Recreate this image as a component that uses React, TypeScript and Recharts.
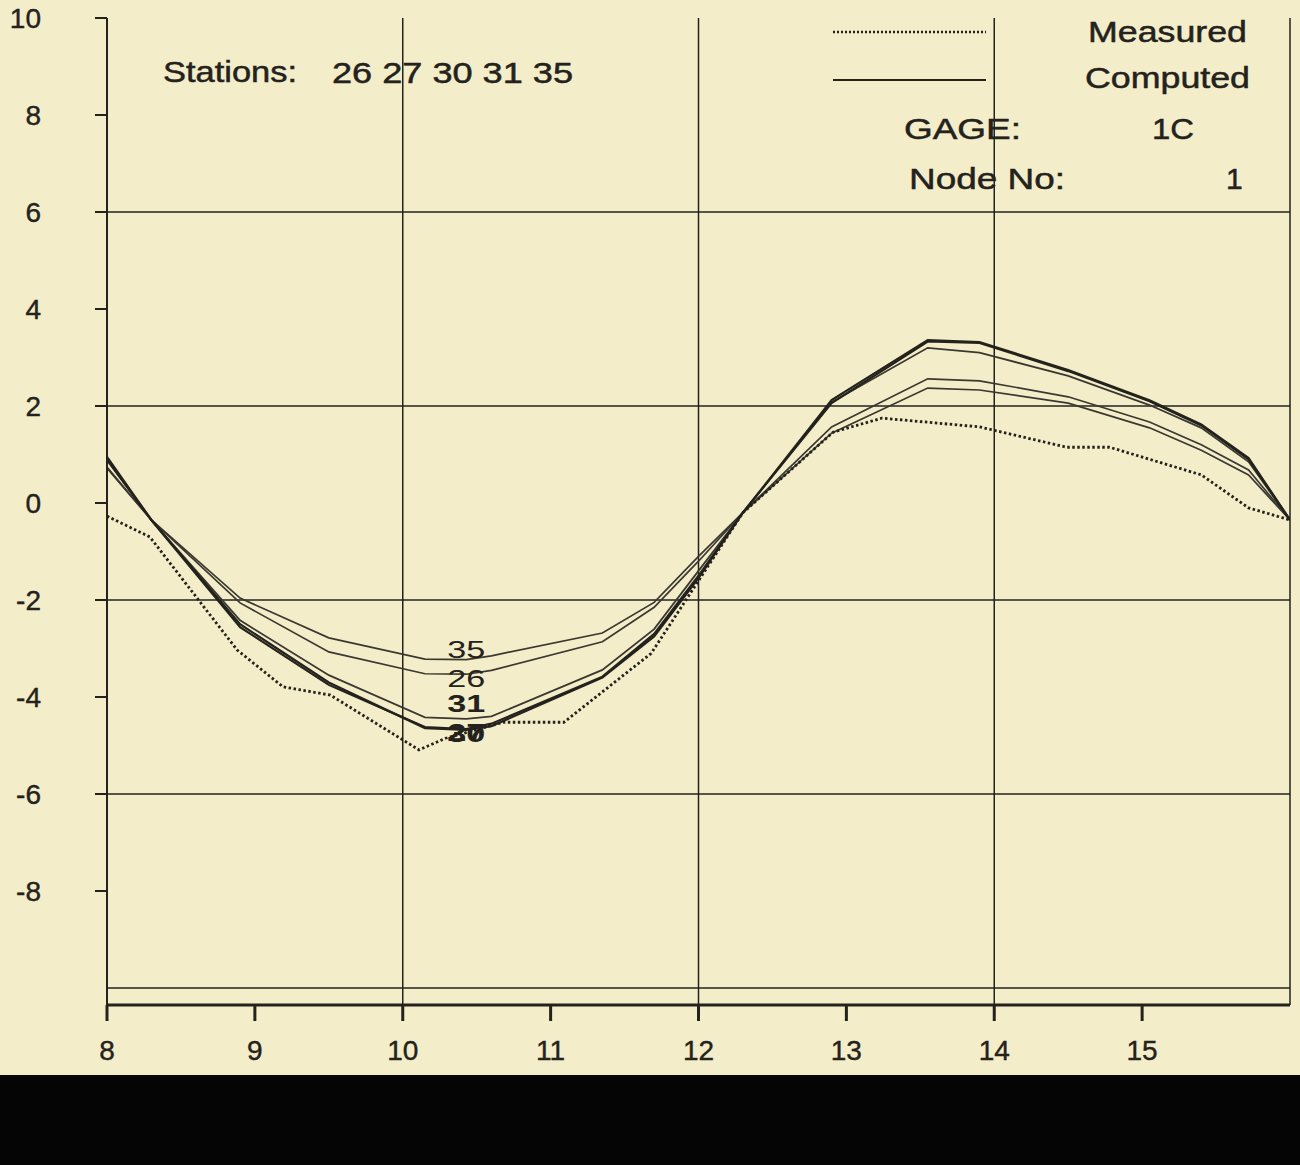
import React from "react";
import {
  LineChart,
  Line,
  XAxis,
  YAxis,
  ReferenceLine,
} from "recharts";

// hours (x) for the computed series
const CALC_T = [
  8.0, 8.3, 8.9, 9.5, 10.15, 10.43, 10.6, 11.35, 11.7, 12.0, 12.3, 12.9, 13.55,
  13.9, 14.5, 15.05, 15.4, 15.72, 16.0,
];

// computed water levels per station
const ST27 = [
  0.95, -0.35, -2.56, -3.75, -4.62, -4.66, -4.55, -3.58, -2.7, -1.5, -0.2, 2.12,
  3.36, 3.32, 2.74, 2.12, 1.62, 0.93, -0.35,
];
const ST30 = [
  0.9, -0.35, -2.5, -3.7, -4.64, -4.68, -4.6, -3.6, -2.75, -1.55, -0.2, 2.06,
  3.33, 3.3, 2.72, 2.1, 1.6, 0.9, -0.35,
];
const ST31 = [
  0.88, -0.35, -2.42, -3.55, -4.42, -4.45, -4.4, -3.44, -2.6, -1.4, -0.2, 2.08,
  3.2, 3.1, 2.62, 2.02, 1.55, 0.85, -0.35,
];
const ST26 = [
  0.74, -0.35, -2.06, -3.07, -3.52, -3.53, -3.45, -2.86, -2.15, -1.2, -0.2,
  1.57, 2.56, 2.52, 2.19, 1.67, 1.2, 0.68, -0.35,
];
const ST35 = [
  0.72, -0.35, -1.96, -2.78, -3.22, -3.23, -3.15, -2.68, -2.05, -1.1, -0.2,
  1.44, 2.37, 2.33, 2.06, 1.55, 1.09, 0.58, -0.35,
];

// measured gage record
const MEAS_T = [
  8.0, 8.29, 8.88, 9.19, 9.51, 10.11, 10.29, 10.68, 11.09, 11.68, 12.3, 12.91,
  13.24, 13.9, 14.49, 14.78, 15.4, 15.72, 16.0,
];
const MEAS = [
  -0.27, -0.7, -3.03, -3.79, -3.96, -5.09, -4.85, -4.52, -4.52, -3.1, -0.2,
  1.46, 1.75, 1.57, 1.15, 1.15, 0.58, -0.1, -0.35,
];

const X_TICKS = [8, 9, 10, 11, 12, 13, 14, 15];
const Y_TICKS = [-8, -6, -4, -2, 0, 2, 4, 6, 8, 10];
const H_GRID = [6, 2, -2, -6, -10];
const V_GRID = [10, 12, 14, 16];

const LABEL_T = 10.43;

const INK = "#23221c";
const SOFT = "#3a3830";
const PAPER = "#f4edc9";
const FONT = "'Liberation Sans', Arial, Helvetica, sans-serif";

const toPoints = (ts: number[], vs: number[]) =>
  ts.map((t, i) => ({ t, v: vs[i] }));

// dy shifts the station tag off its line a little, as in the plot
const STATIONS = [
  { name: "35", values: ST35, width: 1.7, color: SOFT, dy: -2, bold: false },
  { name: "26", values: ST26, width: 1.7, color: SOFT, dy: 13, bold: false },
  { name: "31", values: ST31, width: 1.8, color: SOFT, dy: -7, bold: true },
  { name: "30", values: ST30, width: 2.2, color: INK, dy: 12, bold: true },
  { name: "27", values: ST27, width: 2.2, color: INK, dy: 12, bold: true },
];

const stationLabel =
  (name: string, dy: number, bold: boolean) => (props: any) => {
    const { x, y, index } = props;
    if (CALC_T[index] !== LABEL_T) return null;
    return (
      <text
        x={x - 19}
        y={y}
        dy={dy}
        fontSize={23}
        fontWeight={bold ? 700 : 400}
        fontFamily={FONT}
        fill={INK}
        textLength={38}
        lengthAdjust='spacingAndGlyphs'
      >
        {name}
      </text>
    );
  };

const YTick = (props: any) => {
  const { x, y, payload } = props;
  return (
    <text
      x={x}
      y={y}
      dy={10}
      textAnchor='end'
      fontSize={28}
      fontFamily={FONT}
      fill={INK}
      stroke={INK}
      strokeWidth={0.4}
    >
      {payload.value}
    </text>
  );
};

const XTick = (props: any) => {
  const { x, y, payload } = props;
  return (
    <text
      x={x}
      y={y}
      dy={21}
      textAnchor='middle'
      fontSize={28}
      fontFamily={FONT}
      fill={INK}
      stroke={INK}
      strokeWidth={0.4}
    >
      {payload.value}
    </text>
  );
};

export default function App() {
  const measured = toPoints(MEAS_T, MEAS);

  return (
    <div
      style={{
        position: "absolute",
        left: 0,
        top: 0,
        width: 1300,
        height: 1165,
        background: PAPER,
        fontFamily: FONT,
        overflow: "hidden",
      }}
    >
      <LineChart
        width={1300}
        height={1165}
        margin={{ top: 18, right: 10, left: 0, bottom: 0 }}
      >
        <XAxis
          type='number'
          dataKey='t'
          domain={[8, 16]}
          ticks={X_TICKS}
          height={160}
          tickSize={16}
          tickMargin={18}
          stroke={INK}
          strokeWidth={3}
          tick={<XTick />}
          allowDataOverflow
        />
        <YAxis
          type='number'
          domain={[-10.35, 10]}
          ticks={Y_TICKS}
          width={107}
          tickSize={12}
          tickMargin={54}
          stroke={INK}
          strokeWidth={2}
          tick={<YTick />}
          allowDataOverflow
        />
        {H_GRID.map((y) => (
          <ReferenceLine key={`h${y}`} y={y} stroke={INK} strokeWidth={1.5} />
        ))}
        {V_GRID.map((x) => (
          <ReferenceLine key={`v${x}`} x={x} stroke={INK} strokeWidth={1.5} />
        ))}
        {STATIONS.map((s) => (
          <Line
            key={s.name}
            data={toPoints(CALC_T, s.values)}
            dataKey='v'
            type='linear'
            stroke={s.color}
            strokeWidth={s.width}
            dot={false}
            label={stationLabel(s.name, s.dy, s.bold)}
            isAnimationActive={false}
          />
        ))}
        <Line
          data={measured}
          dataKey='v'
          type='linear'
          stroke={INK}
          strokeWidth={2.8}
          strokeDasharray='2.5 2.5'
          dot={false}
          isAnimationActive={false}
        />
      </LineChart>

      <svg
        width={1300}
        height={1165}
        style={{ position: "absolute", left: 0, top: 0, pointerEvents: "none" }}
      >
        <g
          fontFamily={FONT}
          fontSize={30}
          fill={INK}
          stroke={INK}
          strokeWidth={0.5}
        >
          <text x={163} y={82} textLength={134} lengthAdjust='spacingAndGlyphs'>
            Stations:
          </text>
          <text x={332} y={83} textLength={241} lengthAdjust='spacingAndGlyphs'>
            26 27 30 31 35
          </text>
          <text x={1088} y={42} textLength={159} lengthAdjust='spacingAndGlyphs'>
            Measured
          </text>
          <text x={1085} y={88} textLength={165} lengthAdjust='spacingAndGlyphs'>
            Computed
          </text>
          <text x={904} y={139} textLength={117} lengthAdjust='spacingAndGlyphs'>
            GAGE:
          </text>
          <text x={1152} y={139} textLength={42} lengthAdjust='spacingAndGlyphs'>
            1C
          </text>
          <text x={909} y={189} textLength={156} lengthAdjust='spacingAndGlyphs'>
            Node No:
          </text>
          <text x={1226} y={189}>
            1
          </text>
        </g>
        <line
          x1={833}
          x2={986}
          y1={32}
          y2={32}
          stroke={INK}
          strokeWidth={2.4}
          strokeDasharray='2 2'
        />
        <line x1={833} x2={986} y1={80} y2={80} stroke={INK} strokeWidth={1.8} />
        <rect x={0} y={1075} width={1300} height={90} fill='#050505' />
      </svg>
    </div>
  );
}
